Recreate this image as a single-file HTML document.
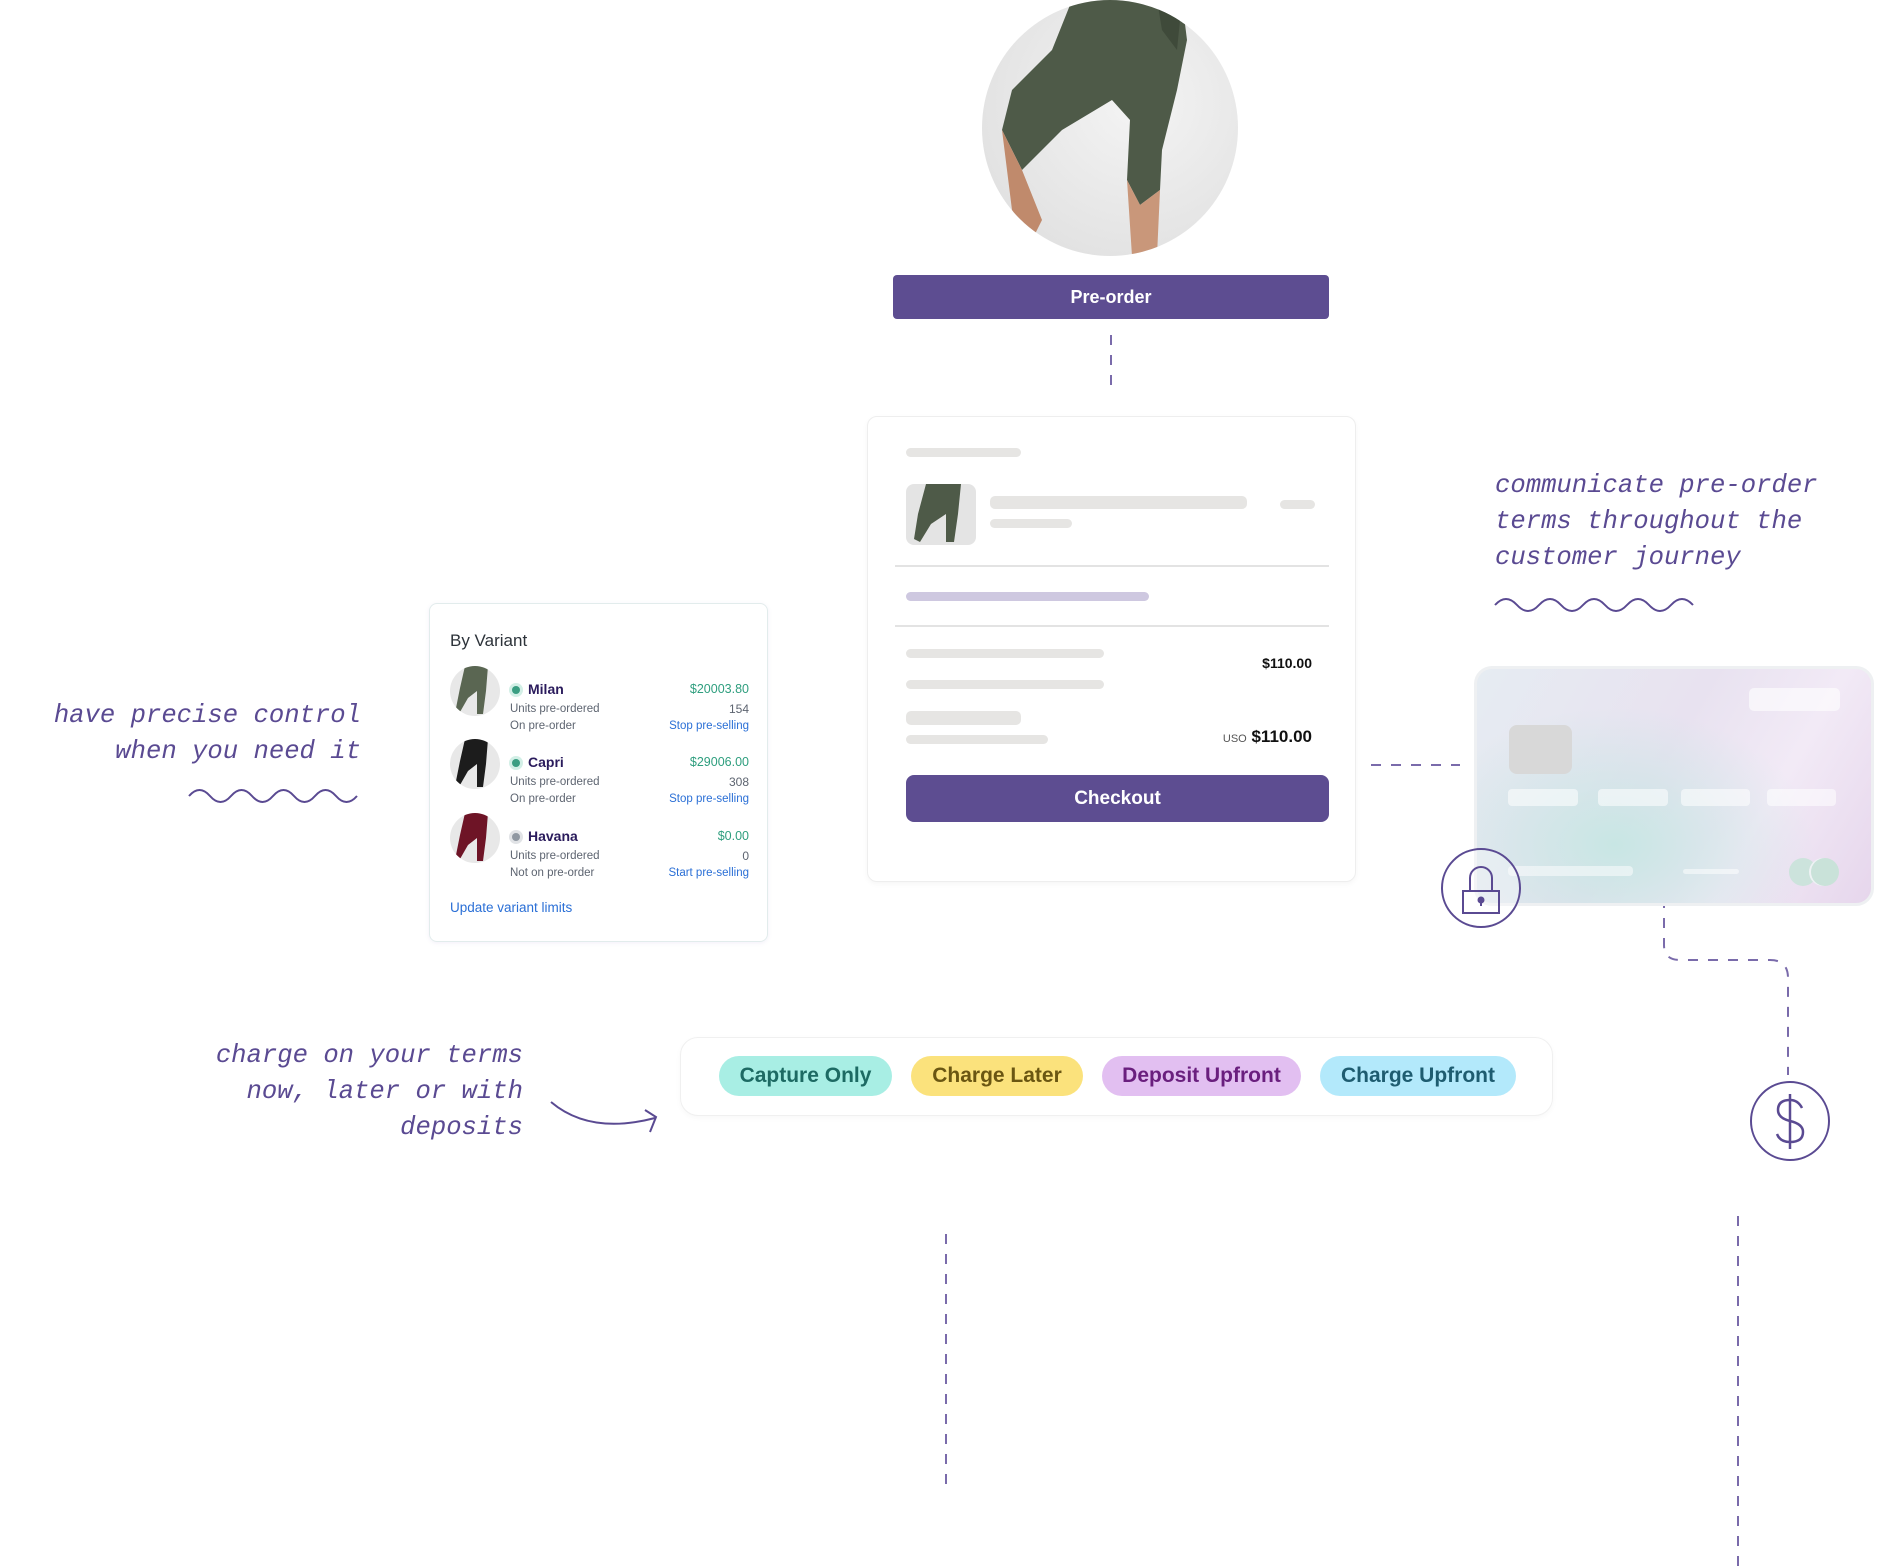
<!DOCTYPE html>
<html><head><meta charset="utf-8"><style>
*{margin:0;padding:0;box-sizing:border-box}
body{width:1878px;height:1566px;background:#fff;position:relative;overflow:hidden;font-family:"Liberation Sans",sans-serif}
.a{position:absolute}
.hand{position:absolute;font-family:"Liberation Mono",monospace;font-style:italic;color:#5a4a92;font-size:25.6px;line-height:36px;white-space:pre}
.bar{position:absolute;background:#e6e5e3;border-radius:5px}
.pill{position:absolute;top:1056px;height:40px;border-radius:20px;font-size:21px;font-weight:bold;text-align:center;line-height:40px}
.vr{position:absolute;left:20px;width:299px;height:72px}
.av{position:absolute;left:0;top:-24px;width:50px;height:50px;border-radius:50%;background:#e8e8e8;overflow:hidden}
.dot{position:absolute;left:59px;top:-7px;width:14px;height:14px;border-radius:50%}
.dot i{position:absolute;left:3px;top:3px;width:8px;height:8px;border-radius:50%}
.nm{position:absolute;left:78px;top:-9px;font-size:14px;font-weight:bold;color:#2a1b5c}
.s1{position:absolute;left:60px;top:13px;font-size:11.5px;color:#5d6470}
.s2{position:absolute;left:60px;top:30px;font-size:11.5px;color:#5d6470}
.r1{position:absolute;right:0;top:-8px;font-size:12.5px;color:#2e9e7e}
.r2{position:absolute;right:0;top:12px;font-size:12px;color:#5d6470}
.r3{position:absolute;right:0;top:30px;font-size:11.5px;color:#2a6fd6}
</style></head><body>

<!-- product circle -->
<div class="a" style="left:982px;top:0;width:256px;height:256px;border-radius:50%;background:radial-gradient(circle at 60% 40%,#f4f4f4,#dcdcdc);overflow:hidden">
<svg width="256" height="256" viewBox="0 0 256 256">
<path d="M90 0 L200 0 L205 40 L195 90 L180 150 L178 190 L158 205 L145 180 L148 120 L130 100 L80 130 L40 170 L20 130 L30 90 L70 50 Z" fill="#4e5a48"/>
<path d="M145 180 L158 205 L178 190 L175 256 L150 256 Z" fill="#c9977a"/>
<path d="M20 130 L40 170 L60 220 L50 240 L30 210 Z" fill="#c08a6c"/>
<path d="M175 0 L200 0 L195 50 L180 30 Z" fill="#3f4a3a"/>
</svg></div>

<!-- pre-order button -->
<div class="a" style="left:893px;top:275px;width:436px;height:44px;background:#5d4d91;border-radius:4px;color:#fff;font-weight:bold;font-size:18px;text-align:center;line-height:44px">Pre-order</div>

<svg class="a" style="left:0;top:0" width="1878" height="1566">
<g stroke="#7a6bab" stroke-width="2" fill="none" stroke-dasharray="10 10">
<line x1="1111" y1="335" x2="1111" y2="390"/>
<line x1="1371" y1="765" x2="1460" y2="765"/>
<path d="M1664 898 L1664 945 Q1664 960 1680 960 L1770 960 Q1788 960 1788 978 L1788 1075"/>
<line x1="946" y1="1234" x2="946" y2="1491"/>
<line x1="1738" y1="1216" x2="1738" y2="1566"/>
</g>
<g stroke="#5a4a92" stroke-width="2" fill="none">
<path d="M189 796 q10.5 -12 21 0 t21 0 t21 0 t21 0 t21 0 t21 0 t21 0 t21 0"/>
<path d="M1495 605 q11 -12 22 0 t22 0 t22 0 t22 0 t22 0 t22 0 t22 0 t22 0 t22 0"/>
<path d="M551 1102 Q590 1135 655 1118"/>
<path d="M645 1110 L656 1117 L650 1132"/>
</g>
</svg>

<!-- checkout card -->
<div class="a" style="left:867px;top:416px;width:489px;height:466px;border:1px solid #eeeeee;border-radius:10px;box-shadow:0 2px 6px rgba(0,0,0,0.04)"></div>
<div class="bar" style="left:906px;top:448px;width:115px;height:9px"></div>
<div class="a" style="left:906px;top:484px;width:70px;height:61px;border-radius:8px;background:#e4e4e4;overflow:hidden">
<svg width="70" height="61"><path d="M20 0 L55 0 L52 30 L48 58 L40 58 L40 30 L25 40 L14 58 L8 55 L12 30 Z" fill="#4e5a48"/></svg></div>
<div class="bar" style="left:990px;top:496px;width:257px;height:13px"></div>
<div class="bar" style="left:1280px;top:500px;width:35px;height:9px"></div>
<div class="bar" style="left:990px;top:519px;width:82px;height:9px"></div>
<div class="a" style="left:895px;top:565px;width:434px;height:2px;background:#e3e3e3"></div>
<div class="bar" style="left:906px;top:592px;width:243px;height:9px;background:#cec8e0"></div>
<div class="a" style="left:895px;top:625px;width:434px;height:2px;background:#e3e3e3"></div>
<div class="bar" style="left:906px;top:649px;width:198px;height:9px"></div>
<div class="bar" style="left:906px;top:680px;width:198px;height:9px"></div>
<div class="bar" style="left:906px;top:711px;width:115px;height:14px"></div>
<div class="bar" style="left:906px;top:735px;width:142px;height:9px"></div>
<div class="a" style="left:1200px;top:655px;width:112px;text-align:right;font-size:14px;font-weight:bold;color:#111">$110.00</div>
<div class="a" style="left:1150px;top:727px;width:162px;text-align:right;font-size:17px;font-weight:bold;color:#111"><span style="font-size:11px;font-weight:normal;color:#555">USO</span> $110.00</div>
<div class="a" style="left:906px;top:775px;width:423px;height:47px;background:#5d4d91;border-radius:8px;color:#fff;font-weight:bold;font-size:19px;text-align:center;line-height:47px">Checkout</div>

<!-- variant card -->
<div class="a" style="left:429px;top:603px;width:339px;height:339px;border:1.5px solid #e2ecec;border-radius:8px;box-shadow:0 1px 4px rgba(150,120,200,0.12)">
<div class="a" style="left:20px;top:27px;font-size:17px;color:#2d333a">By Variant</div>
<div class="vr" style="top:86px"><div class="av"><svg width="50" height="50"><path d="M15 0 L38 0 L36 25 L33 48 L27 48 L27 25 L18 32 L10 46 L6 42 L10 22 Z" fill="#5a6652"/></svg></div><div class="dot" style="background:#d2efe6"><i style="background:#3a9e82"></i></div><div class="nm">Milan</div><div class="s1">Units pre-ordered</div><div class="s2">On pre-order</div><div class="r1">$20003.80</div><div class="r2">154</div><div class="r3">Stop pre-selling</div></div>
<div class="vr" style="top:159px"><div class="av"><svg width="50" height="50"><path d="M15 0 L38 0 L36 25 L33 48 L27 48 L27 25 L18 32 L10 46 L6 42 L10 22 Z" fill="#1c1c1c"/></svg></div><div class="dot" style="background:#d2efe6"><i style="background:#3a9e82"></i></div><div class="nm">Capri</div><div class="s1">Units pre-ordered</div><div class="s2">On pre-order</div><div class="r1">$29006.00</div><div class="r2">308</div><div class="r3">Stop pre-selling</div></div>
<div class="vr" style="top:233px"><div class="av"><svg width="50" height="50"><path d="M15 0 L38 0 L36 25 L33 48 L27 48 L27 25 L18 32 L10 46 L6 42 L10 22 Z" fill="#6e1426"/></svg></div><div class="dot" style="background:#e1e3e6"><i style="background:#9098a2"></i></div><div class="nm">Havana</div><div class="s1">Units pre-ordered</div><div class="s2">Not on pre-order</div><div class="r1">$0.00</div><div class="r2">0</div><div class="r3">Start pre-selling</div></div>
<div class="a" style="left:20px;top:296px;font-size:13.5px;color:#2a6fd6">Update variant limits</div>
</div>

<!-- handwritten text -->
<div class="hand" style="right:1517px;top:698px;text-align:right">have precise control
when you need it</div>
<div class="hand" style="right:1355px;top:1038px;text-align:right">charge on your terms
now, later or with
deposits</div>
<div class="hand" style="left:1495px;top:468px">communicate pre-order
terms throughout the
customer journey</div>

<!-- pills -->
<div class="a" style="left:680px;top:1037px;width:873px;height:79px;border:1.5px solid #f0f0f0;border-radius:18px;box-shadow:0 2px 6px rgba(0,0,0,0.03)"></div>
<div class="pill" style="left:719px;width:173px;background:#a8eee4;color:#1d6a63">Capture Only</div>
<div class="pill" style="left:911px;width:172px;background:#fbe27c;color:#6a5612">Charge Later</div>
<div class="pill" style="left:1102px;width:199px;background:#e2bff1;color:#6a1f7e">Deposit Upfront</div>
<div class="pill" style="left:1320px;width:196px;background:#b3e9fb;color:#1e5c70">Charge Upfront</div>

<!-- credit card -->
<div class="a" style="left:1474px;top:666px;width:400px;height:240px;border-radius:18px;border:3px solid #eef0f2;background:radial-gradient(ellipse at 35% 75%,#c8e6e4 0%,rgba(200,230,228,0) 55%),linear-gradient(120deg,#e6ecf2 0%,#e8e2f0 45%,#f2eaf6 70%,#e6d6ec 100%);overflow:hidden">
<div class="a" style="left:32px;top:56px;width:63px;height:49px;border-radius:8px;background:#d8d8d8"></div>
<div class="a" style="left:272px;top:19px;width:91px;height:23px;border-radius:5px;background:rgba(255,255,255,0.6)"></div>
<div class="a" style="left:31px;top:120px;width:70px;height:17px;border-radius:4px;background:rgba(255,255,255,0.55)"></div>
<div class="a" style="left:121px;top:120px;width:70px;height:17px;border-radius:4px;background:rgba(255,255,255,0.55)"></div>
<div class="a" style="left:204px;top:120px;width:69px;height:17px;border-radius:4px;background:rgba(255,255,255,0.55)"></div>
<div class="a" style="left:290px;top:120px;width:69px;height:17px;border-radius:4px;background:rgba(255,255,255,0.55)"></div>
<div class="a" style="left:31px;top:197px;width:125px;height:10px;border-radius:4px;background:rgba(255,255,255,0.5)"></div>
<div class="a" style="left:206px;top:200px;width:56px;height:5px;border-radius:3px;background:rgba(255,255,255,0.5)"></div>
<div class="a" style="left:312px;top:189px;width:28px;height:28px;border-radius:50%;background:#cce3dc"></div>
<div class="a" style="left:334px;top:189px;width:28px;height:28px;border-radius:50%;background:#c9e2d9;box-shadow:-2px 0 0 #eef2f4"></div>
</div>

<!-- lock & dollar icons -->
<svg class="a" style="left:1440px;top:848px" width="84" height="84" viewBox="0 0 84 84">
<circle cx="41" cy="40" r="39" fill="rgba(255,255,255,0.3)" stroke="#5a4a92" stroke-width="2"/>
<path d="M30 43 V30 a11 11 0 0 1 22 0 V43" fill="none" stroke="#5a4a92" stroke-width="2"/>
<rect x="23" y="43" width="36" height="22" fill="none" stroke="#5a4a92" stroke-width="2"/>
<circle cx="41" cy="52" r="3.5" fill="#5a4a92"/><line x1="41" y1="52" x2="41" y2="58" stroke="#5a4a92" stroke-width="2"/>
</svg>
<svg class="a" style="left:1748px;top:1080px" width="84" height="84" viewBox="0 0 84 84">
<circle cx="42" cy="41" r="39" fill="#fff" stroke="#5a4a92" stroke-width="2"/>
<path d="M54 28 Q50 20 42 20 Q30 20 30 30 Q30 38 42 41 Q55 44 55 52 Q55 62 42 62 Q32 62 29 54" fill="none" stroke="#5a4a92" stroke-width="2.5"/>
<line x1="42" y1="14" x2="42" y2="69" stroke="#5a4a92" stroke-width="2.5"/>
</svg>

</body></html>
